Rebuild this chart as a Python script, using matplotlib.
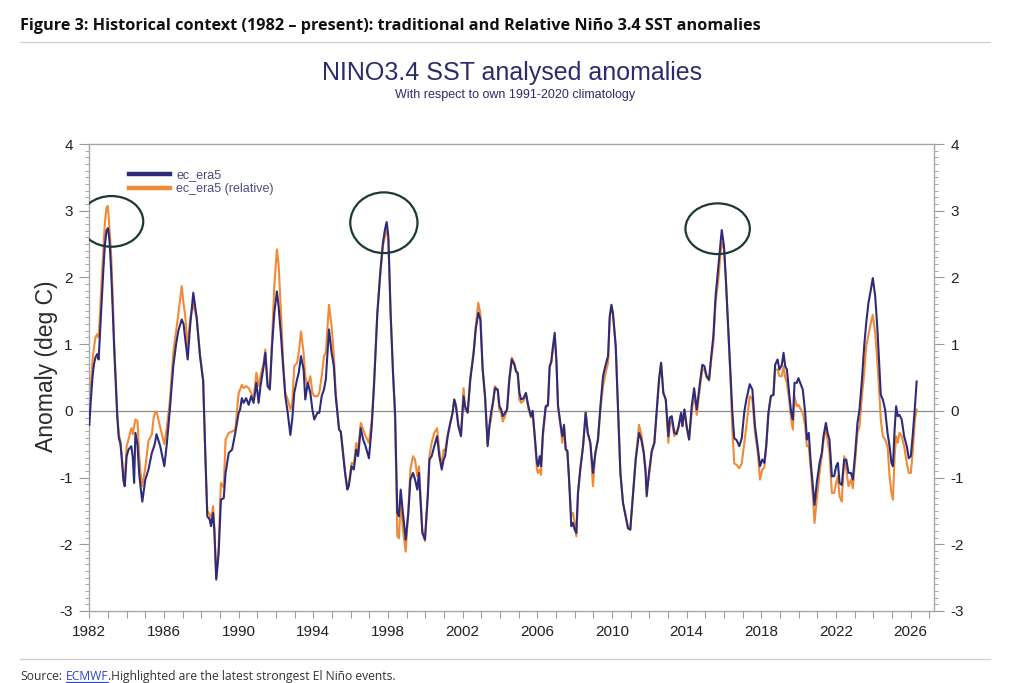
import matplotlib
matplotlib.use("Agg")
import matplotlib.pyplot as plt
from matplotlib.patches import Ellipse
from matplotlib.ticker import FixedLocator, MultipleLocator
from matplotlib.lines import Line2D

plt.rcParams['font.family'] = ['Liberation Sans', 'DejaVu Sans']
plt.rcParams['axes.unicode_minus'] = False

# ---------------- data (decimal year, anomaly in deg C) ----------------
t = [
    1982.00, 1982.08, 1982.17, 1982.25, 1982.33, 1982.42, 1982.50, 1982.58, 1982.67, 1982.75,
    1982.83, 1982.92, 1983.00, 1983.08, 1983.17, 1983.25, 1983.33, 1983.42, 1983.50, 1983.58,
    1983.67, 1983.75, 1983.83, 1983.90, 1984.00, 1984.10, 1984.25, 1984.33, 1984.40, 1984.47,
    1984.58, 1984.67, 1984.75, 1984.84, 1985.00, 1985.17, 1985.35, 1985.45, 1985.52, 1985.60,
    1985.80, 1986.02, 1986.15, 1986.30, 1986.50, 1986.65, 1986.77, 1986.95, 1987.05, 1987.13,
    1987.27, 1987.40, 1987.57, 1987.75, 1987.93, 1988.10, 1988.22, 1988.32, 1988.45, 1988.52,
    1988.63, 1988.70, 1988.80, 1988.93, 1989.05, 1989.20, 1989.30, 1989.47, 1989.65, 1989.82,
    1990.00, 1990.08, 1990.17, 1990.27, 1990.40, 1990.54, 1990.67, 1990.80, 1990.95, 1991.07,
    1991.17, 1991.34, 1991.43, 1991.55, 1991.67, 1991.79, 1991.91, 1992.05, 1992.14, 1992.27,
    1992.38, 1992.50, 1992.63, 1992.77, 1992.87, 1992.98, 1993.13, 1993.22, 1993.34, 1993.48,
    1993.57, 1993.70, 1993.84, 1993.95, 1994.05, 1994.22, 1994.32, 1994.45, 1994.57, 1994.67,
    1994.84, 1994.98, 1995.10, 1995.20, 1995.38, 1995.47, 1995.55, 1995.70, 1995.82, 1995.90,
    1996.05, 1996.17, 1996.30, 1996.40, 1996.54, 1996.67, 1996.80, 1996.98, 1997.13, 1997.25,
    1997.43, 1997.60, 1997.73, 1997.84, 1997.93, 1998.02, 1998.14, 1998.27, 1998.38, 1998.50,
    1998.59, 1998.68, 1998.80, 1998.95, 1999.09, 1999.20, 1999.34, 1999.45, 1999.57, 1999.66,
    1999.84, 1999.98, 2000.13, 2000.22, 2000.34, 2000.48, 2000.63, 2000.75, 2000.88, 2000.98,
    2001.06, 2001.20, 2001.34, 2001.46, 2001.55, 2001.64, 2001.77, 2001.91, 2002.05, 2002.13,
    2002.27, 2002.41, 2002.50, 2002.59, 2002.70, 2002.84, 2002.95, 2003.07, 2003.20, 2003.34,
    2003.43, 2003.52, 2003.62, 2003.73, 2003.88, 2003.97, 2004.06, 2004.15, 2004.27, 2004.38,
    2004.50, 2004.63, 2004.77, 2004.86, 2004.95, 2005.04, 2005.13, 2005.26, 2005.39, 2005.52,
    2005.66, 2005.75, 2005.88, 2005.98, 2006.04, 2006.13, 2006.20, 2006.30, 2006.45, 2006.57,
    2006.66, 2006.75, 2006.84, 2006.93, 2007.02, 2007.11, 2007.23, 2007.34, 2007.43, 2007.52,
    2007.61, 2007.70, 2007.82, 2007.91, 2008.00, 2008.09, 2008.18, 2008.30, 2008.45, 2008.59,
    2008.70, 2008.84, 2008.98, 2009.11, 2009.25, 2009.38, 2009.52, 2009.66, 2009.79, 2009.88,
    2009.97, 2010.05, 2010.20, 2010.32, 2010.45, 2010.59, 2010.73, 2010.86, 2010.98, 2011.13,
    2011.27, 2011.45, 2011.57, 2011.70, 2011.80, 2011.86, 2011.98, 2012.13, 2012.27, 2012.40,
    2012.52, 2012.63, 2012.75, 2012.88, 2013.02, 2013.10, 2013.20, 2013.34, 2013.46, 2013.55,
    2013.70, 2013.77, 2013.88, 2014.00, 2014.13, 2014.27, 2014.40, 2014.54, 2014.72, 2014.84,
    2014.95, 2015.07, 2015.20, 2015.30, 2015.43, 2015.55, 2015.70, 2015.80, 2015.88, 2016.00,
    2016.10, 2016.23, 2016.36, 2016.45, 2016.55, 2016.68, 2016.82, 2016.95, 2017.09, 2017.20,
    2017.38, 2017.52, 2017.66, 2017.80, 2017.93, 2018.05, 2018.16, 2018.26, 2018.38, 2018.51,
    2018.65, 2018.74, 2018.87, 2018.97, 2019.10, 2019.19, 2019.28, 2019.37, 2019.49, 2019.60,
    2019.69, 2019.78, 2019.90, 2019.99, 2020.08, 2020.22, 2020.35, 2020.44, 2020.54, 2020.65,
    2020.76, 2020.85, 2020.97, 2021.12, 2021.24, 2021.33, 2021.46, 2021.55, 2021.65, 2021.78,
    2021.90, 2022.01, 2022.10, 2022.19, 2022.31, 2022.44, 2022.55, 2022.67, 2022.80, 2022.90,
    2023.03, 2023.15, 2023.26, 2023.39, 2023.51, 2023.62, 2023.74, 2023.87, 2023.97, 2024.10,
    2024.22, 2024.33, 2024.40, 2024.51, 2024.63, 2024.76, 2024.87, 2024.97, 2025.05, 2025.14,
    2025.22, 2025.31, 2025.40, 2025.52, 2025.65, 2025.79, 2025.90, 2026.01, 2026.12, 2026.23,
    2026.32,
]

ec_era5 = [
    -0.21, 0.15, 0.50, 0.70, 0.80, 0.85, 0.77, 1.20, 1.70, 2.10,
    2.47, 2.70, 2.74, 2.56, 2.10, 1.55, 0.95, 0.40, -0.10, -0.40,
    -0.50, -0.75, -1.05, -1.13, -0.68, -0.58, -0.53, -0.70, -1.08, -0.33,
    -0.50, -0.93, -1.15, -1.36, -1.03, -0.88, -0.63, -0.55, -0.48, -0.35,
    -0.53, -0.83, -0.50, -0.03, 0.67, 1.00, 1.20, 1.37, 1.30, 1.10,
    0.77, 1.27, 1.77, 1.40, 0.82, 0.45, -0.70, -1.58, -1.63, -1.73,
    -1.53, -1.80, -2.53, -2.13, -1.33, -1.31, -0.93, -0.63, -0.58, -0.33,
    -0.03, 0.02, 0.19, 0.12, 0.19, 0.09, 0.22, 0.12, 0.42, 0.12,
    0.37, 0.67, 0.87, 0.37, 0.32, 0.97, 1.47, 1.79, 1.57, 1.12,
    0.67, 0.22, -0.03, -0.36, -0.13, 0.27, 0.47, 0.57, 0.82, 0.62,
    0.17, 0.42, 0.27, 0.02, -0.13, -0.03, -0.03, 0.22, 0.32, 0.47,
    1.22, 0.87, 0.67, 0.22, -0.28, -0.31, -0.53, -0.93, -1.18, -1.13,
    -0.83, -0.88, -0.58, -0.68, -0.26, -0.43, -0.53, -0.71, -0.23, 0.37,
    1.47, 2.12, 2.52, 2.72, 2.83, 2.62, 1.47, 0.57, -0.03, -1.53,
    -1.58, -1.18, -1.53, -1.93, -1.53, -1.03, -0.93, -1.03, -1.18, -0.93,
    -1.83, -1.93, -1.28, -0.73, -0.68, -0.53, -0.38, -0.68, -0.88, -0.73,
    -0.68, -0.38, -0.18, -0.03, 0.17, 0.07, -0.23, -0.38, 0.22, 0.07,
    -0.03, 0.47, 0.67, 0.87, 1.22, 1.47, 1.37, 0.62, 0.22, -0.53,
    -0.23, -0.03, 0.12, 0.34, 0.32, 0.07, 0.02, -0.08, -0.03, 0.02,
    0.47, 0.77, 0.69, 0.59, 0.57, 0.27, 0.17, 0.19, 0.27, 0.07,
    -0.08, 0.00, -0.43, -0.78, -0.83, -0.68, -0.83, -0.33, 0.07, 0.09,
    0.67, 0.74, 0.97, 1.17, 0.77, 0.07, -0.18, -0.38, -0.21, -0.58,
    -0.60, -1.03, -1.73, -1.68, -1.78, -1.83, -1.23, -0.88, -0.53, -0.03,
    -0.33, -0.48, -0.93, -0.63, -0.43, 0.07, 0.52, 0.69, 0.82, 1.42,
    1.59, 1.47, 0.97, 0.07, -0.93, -1.38, -1.58, -1.76, -1.78, -1.23,
    -0.73, -0.33, -0.43, -0.63, -0.93, -1.28, -0.93, -0.60, -0.48, 0.02,
    0.47, 0.72, 0.27, 0.17, -0.38, -0.10, -0.08, -0.33, -0.35, -0.26,
    -0.03, -0.23, 0.02, -0.23, -0.43, 0.07, 0.34, 0.02, 0.44, 0.69,
    0.67, 0.52, 0.47, 0.77, 1.12, 1.72, 2.17, 2.47, 2.71, 2.47,
    1.97, 1.22, 0.47, -0.03, -0.41, -0.44, -0.53, -0.41, -0.01, 0.17,
    0.40, 0.32, -0.23, -0.53, -0.83, -0.73, -0.78, -0.53, -0.03, 0.22,
    0.24, 0.69, 0.77, 0.62, 0.69, 0.87, 0.67, 0.62, 0.27, -0.03,
    -0.13, 0.42, 0.42, 0.49, 0.42, 0.32, -0.03, -0.43, -0.33, -0.78,
    -1.13, -1.41, -1.08, -0.78, -0.63, -0.38, -0.18, -0.33, -0.43, -0.98,
    -0.98, -0.83, -0.78, -1.08, -1.11, -0.73, -0.73, -0.93, -0.93, -1.03,
    -0.63, -0.18, 0.02, 0.47, 0.97, 1.32, 1.62, 1.82, 1.99, 1.72,
    1.22, 0.62, 0.24, 0.17, 0.02, -0.33, -0.53, -0.78, -0.83, -0.28,
    0.07, -0.08, -0.06, -0.13, -0.38, -0.53, -0.71, -0.68, -0.33, 0.07,
    0.44,
]

ec_era5_relative = [
    0.00, 0.35, 0.75, 0.95, 1.10, 1.15, 1.10, 1.50, 2.00, 2.40,
    2.80, 3.05, 3.07, 2.72, 2.35, 1.75, 1.05, 0.45, -0.05, -0.35,
    -0.45, -0.70, -1.00, -1.05, -0.53, -0.43, -0.26, -0.35, -0.23, -0.13,
    -0.15, -0.65, -0.95, -1.13, -0.85, -0.45, -0.35, -0.10, -0.03, -0.01,
    -0.25, -0.50, -0.25, 0.10, 0.87, 1.20, 1.45, 1.87, 1.60, 1.45,
    0.97, 1.37, 1.60, 1.40, 0.85, 0.45, -0.70, -1.50, -1.55, -1.65,
    -1.43, -1.75, -2.50, -2.05, -1.08, -1.15, -0.43, -0.33, -0.31, -0.28,
    0.27, 0.32, 0.39, 0.34, 0.37, 0.34, 0.27, 0.17, 0.57, 0.37,
    0.52, 0.72, 0.92, 0.40, 0.35, 1.07, 1.87, 2.42, 2.20, 1.47,
    0.77, 0.27, 0.17, 0.02, 0.12, 0.67, 0.72, 0.87, 1.19, 0.87,
    0.52, 0.37, 0.52, 0.27, 0.22, 0.22, 0.27, 0.52, 0.82, 0.87,
    1.59, 1.27, 0.82, 0.27, -0.28, -0.31, -0.50, -0.90, -1.15, -1.10,
    -0.78, -0.80, -0.48, -0.60, -0.18, -0.28, -0.38, -0.48, -0.15, 0.40,
    1.45, 2.08, 2.47, 2.62, 2.72, 2.55, 1.47, 0.57, -0.10, -1.88,
    -1.91, -1.33, -1.78, -2.11, -1.50, -0.88, -0.68, -0.73, -0.98, -0.83,
    -1.78, -1.95, -1.28, -0.68, -0.48, -0.33, -0.26, -0.60, -0.83, -0.58,
    -0.60, -0.35, -0.18, -0.03, 0.17, 0.10, -0.20, -0.35, 0.34, 0.02,
    0.00, 0.50, 0.70, 0.90, 1.27, 1.62, 1.45, 0.65, 0.20, -0.50,
    -0.25, -0.13, 0.10, 0.37, 0.30, 0.00, -0.03, -0.16, -0.08, 0.02,
    0.47, 0.80, 0.72, 0.60, 0.55, 0.17, 0.12, 0.15, 0.25, 0.03,
    -0.10, -0.05, -0.45, -0.88, -0.93, -0.88, -0.96, -0.38, 0.05, 0.07,
    0.65, 0.72, 0.95, 1.10, 0.75, 0.07, -0.18, -0.48, -0.25, -0.56,
    -0.60, -1.03, -1.58, -1.53, -1.68, -1.88, -1.23, -0.88, -0.53, -0.01,
    -0.33, -0.48, -1.13, -0.63, -0.43, 0.02, 0.37, 0.57, 0.72, 1.40,
    1.55, 1.45, 0.97, 0.07, -0.93, -1.38, -1.58, -1.76, -1.78, -1.23,
    -0.73, -0.21, -0.35, -0.60, -0.85, -1.18, -0.98, -0.62, -0.48, 0.02,
    0.47, 0.72, 0.27, 0.17, -0.48, -0.20, -0.15, -0.38, -0.30, -0.26,
    -0.05, -0.23, 0.02, -0.25, -0.43, -0.03, 0.27, -0.06, 0.37, 0.62,
    0.62, 0.50, 0.45, 0.72, 1.02, 1.62, 1.97, 2.32, 2.52, 2.42,
    1.97, 1.20, 0.40, -0.30, -0.79, -0.81, -0.86, -0.79, -0.48, -0.23,
    0.22, 0.17, -0.33, -0.60, -1.03, -0.88, -0.85, -0.55, -0.05, 0.22,
    0.24, 0.62, 0.62, 0.52, 0.52, 0.67, 0.50, 0.42, 0.17, -0.13,
    -0.28, 0.22, 0.07, 0.09, 0.04, -0.03, -0.23, -0.53, -0.53, -0.88,
    -1.28, -1.68, -1.33, -0.93, -0.68, -0.45, -0.26, -0.45, -0.63, -1.23,
    -1.23, -1.08, -0.98, -1.28, -1.36, -0.68, -0.88, -1.13, -1.03, -1.16,
    -0.73, -0.33, -0.23, 0.22, 0.57, 0.97, 1.14, 1.32, 1.44, 1.17,
    0.72, 0.22, -0.13, -0.38, -0.43, -0.53, -0.98, -1.23, -1.33, -0.68,
    -0.38, -0.48, -0.33, -0.38, -0.53, -0.78, -0.93, -0.93, -0.58, -0.13,
    0.02,
]

series_labels = ["ec_era5", "ec_era5 (relative)"]
year_ticks = list(range(1982, 2027, 4))
year_labels = [str(y) for y in year_ticks]
y_ticks = [-3, -2, -1, 0, 1, 2, 3, 4]

# highlighted El Nino events: (centre year, centre value, width in years, height in deg C)
highlights = [(1983.19, 2.84, 3.4, 0.76), (1997.78, 2.82, 3.6, 0.91), (2015.66, 2.73, 3.45, 0.76)]

NAVY = '#2e2c7a'
ORANGE = '#f08a36'
GRID_GREY = '#9a9a9a'

fig = plt.figure(figsize=(10.24, 6.83), dpi=100)
W, H = 1024.0, 683.0
ax = fig.add_axes([89.3 / W, 1 - 611 / H, (934 - 89.3) / W, (611 - 144) / H])

ax.axhline(0, color='#8a8a8a', lw=0.9, zorder=1)
l_rel, = ax.plot(t, ec_era5_relative, color=ORANGE, lw=1.5, zorder=2, label=series_labels[1])
l_nav, = ax.plot(t, ec_era5, color=NAVY, lw=1.5, zorder=3, label=series_labels[0])

for cx, cy, w, h in highlights:
    ax.add_patch(Ellipse((cx, cy), w, h, fill=False, ec='#1c3838', lw=1.6, zorder=4))

ax.set_xlim(1982, 2027.25)
ax.set_ylim(-3, 4)
ax.xaxis.set_major_locator(FixedLocator(year_ticks))
ax.set_xticklabels(year_labels)
ax.xaxis.set_minor_locator(FixedLocator(list(range(1982, 2028))))
ax.yaxis.set_major_locator(FixedLocator(y_ticks))
ax.set_yticklabels([str(v) for v in y_ticks])
ax.yaxis.set_minor_locator(MultipleLocator(0.1))

for sp in ax.spines.values():
    sp.set_color('#a8a8a8')
    sp.set_linewidth(1.0)

ax.tick_params(axis='x', which='both', direction='out', length=5, width=0.8,
               color=GRID_GREY, labelsize=11, labelcolor='#222222', pad=5)
ax.tick_params(axis='y', which='major', direction='out', length=7, width=0.8,
               color=GRID_GREY, labelsize=11, labelcolor='#222222', pad=5,
               left=True, right=True, labelleft=True, labelright=True)
ax.tick_params(axis='y', which='minor', direction='out', length=3, width=0.6,
               color=GRID_GREY, left=True, right=True)

ax.set_ylabel('Anomaly (deg C)', fontsize=16.5, color='#2a2a2a')
ax.yaxis.set_label_coords(-0.037, 0.524)

leg = ax.legend(handles=[l_nav, l_rel], loc='upper left',
                bbox_to_anchor=(129 / W, 1 - 169 / H), bbox_transform=fig.transFigure,
                frameon=False, fontsize=9, handlelength=3.3, handletextpad=0.5,
                labelspacing=0.15, borderpad=0, borderaxespad=0, labelcolor='#4a4a80')
for lh in leg.get_lines():
    lh.set_linewidth(3.2)

# titles
fig.text(512 / W, 1 - 73 / H, 'NINO3.4 SST analysed anomalies', ha='center', va='center',
         fontsize=18, color='#2c2c6c')
fig.text(515 / W, 1 - 95 / H, 'With respect to own 1991-2020 climatology', ha='center', va='center',
         fontsize=9, color='#2c2c6c')

# header / footer
fig.canvas.draw()
rend = fig.canvas.get_renderer()


def fit_width(txt, target_px):
    w = txt.get_window_extent(rend).width
    txt.set_fontsize(txt.get_fontsize() * target_px / w)


hdr = fig.text(20 / W, 1 - 26 / H,
               'Figure 3: Historical context (1982 \u2013 present): traditional and Relative Ni\u00f1o 3.4 SST anomalies',
               ha='left', va='center', fontsize=11, fontweight='bold', color='#111111',
               family=['Open Sans', 'DejaVu Sans'])
fit_width(hdr, 738)

fig.add_artist(Line2D([20 / W, 990 / W], [1 - 42 / H, 1 - 42 / H], transform=fig.transFigure,
                      color='#cfcfcf', lw=0.9))
fig.add_artist(Line2D([20 / W, 990 / W], [1 - 659 / H, 1 - 659 / H], transform=fig.transFigure,
                      color='#cfcfcf', lw=0.9))

foot_fam = ['Open Sans', 'DejaVu Sans']
base_y = 1 - 680 / H
x0 = 20.7
probe = fig.text(0, 0, 'Source: ECMWF.Highlighted are the latest strongest El Ni\u00f1o events.',
                 fontsize=8, family=foot_fam)
fs = 8 * 381 / probe.get_window_extent(rend).width
probe.remove()
p1 = fig.text(0, 0, 'Source: ECMWF', fontsize=fs, family=foot_fam)
p2 = fig.text(0, 0, 'ECMWF', fontsize=fs, family=foot_fam)
w_src_link = p1.get_window_extent(rend).width
w_link = p2.get_window_extent(rend).width
p1.remove()
p2.remove()
x_link = x0 + w_src_link - w_link
fig.text(x0 / W, base_y, 'Source:', fontsize=fs, family=foot_fam, color='#333333', va='baseline')
fig.text(x_link / W, base_y, 'ECMWF', fontsize=fs, family=foot_fam, color='#2f45c8', va='baseline')
fig.text((x0 + w_src_link) / W, base_y, '.Highlighted are the latest strongest El Ni\u00f1o events.',
         fontsize=fs, family=foot_fam, color='#333333', va='baseline')
fig.add_artist(Line2D([x_link / W, (x_link + w_link) / W], [base_y - 2 / H, base_y - 2 / H],
                      transform=fig.transFigure, color='#2f45c8', lw=0.8))

fig.savefig('out.png', dpi=100, facecolor='white')
